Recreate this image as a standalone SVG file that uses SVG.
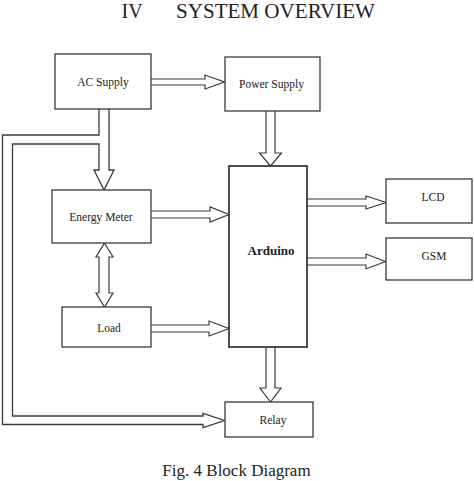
<svg xmlns="http://www.w3.org/2000/svg" width="474" height="481" viewBox="0 0 474 481">
<style>
.box{fill:#fff;stroke:#3a3a3a;stroke-width:1.3}
.thick{stroke-width:1.8}
.arr{fill:#fff;stroke:#3a3a3a;stroke-width:1.2;stroke-linejoin:miter}
.line{fill:none;stroke:#3a3a3a;stroke-width:1.3}
.lbl{font-family:"Liberation Serif","Times New Roman",serif;font-size:11.5px;fill:#222;text-anchor:middle}
.big{font-family:"Liberation Serif","Times New Roman",serif;fill:#222}
</style>
<rect width="474" height="481" fill="#fff"/>
<text class="big" x="121.5" y="17.5" font-size="20">IV</text>
<text class="big" x="176" y="17.5" font-size="20" textLength="199" lengthAdjust="spacingAndGlyphs">SYSTEM OVERVIEW</text>

<g id="connectors">
<polyline class="arr" points="151,79 205,79 205,75 224.5,82 205,89 205,85 151,85"/>
<polyline class="arr" points="266,111 266,153 259.5,153 270.5,166 281.5,153 275,153 275,111"/>
<polyline class="line" points="109,109 109,170 114,170 104,190 94,170 99,170 99,144 12.5,144 12.5,416 203,416 203,413.5 224.5,420.5 203,427.5 203,424.5 2.5,424.5 2.5,135 99,135 99,109"/>
<polyline class="arr" points="151,211 210,211 210,207 229,214.5 210,222 210,218 151,218"/>
<polygon class="arr" points="104.5,243 113,257 109,257 109,293 113,293 104.5,307 96,293 99,293 99,257 96,257"/>
<polyline class="arr" points="151,325 209,325 209,321 229,328.5 209,336 209,332 151,332"/>
<polyline class="arr" points="266,347 266,388 260,388 270.5,402 281,388 275,388 275,347"/>
<polyline class="arr" points="307,199 366,199 366,196 386,202.5 366,209 366,206 307,206"/>
<polyline class="arr" points="307,258 366,258 366,254 385.5,261.5 366,269 366,265 307,265"/>
</g>

<g id="ac_supply"><rect class="box" x="55" y="54" width="96" height="55"/><text class="lbl" x="103" y="85.5">AC Supply</text></g>
<g id="power_supply"><rect class="box" x="225" y="57" width="95" height="54"/><text class="lbl" x="271.5" y="87.5">Power Supply</text></g>
<g id="energy_meter"><rect class="box" x="52" y="190" width="99" height="53"/><text class="lbl" x="101" y="220.5">Energy Meter</text></g>
<g id="arduino"><rect class="box thick" x="229" y="166" width="78" height="181"/><text class="big" x="271" y="254.5" font-size="13" font-weight="bold" text-anchor="middle">Arduino</text></g>
<g id="lcd"><rect class="box" x="386" y="179" width="86" height="44"/><text class="lbl" x="433" y="200.5">LCD</text></g>
<g id="gsm"><rect class="box" x="386" y="238" width="86" height="42"/><text class="lbl" x="434" y="259.5">GSM</text></g>
<g id="load"><rect class="box" x="62" y="307" width="89" height="40"/><text class="lbl" x="109" y="331.5">Load</text></g>
<g id="relay"><rect class="box" x="225" y="402" width="88" height="35"/><text class="lbl" x="273" y="423.5">Relay</text></g>

<text class="big" x="236.5" y="476" font-size="17" text-anchor="middle">Fig. 4 Block Diagram</text>
</svg>
